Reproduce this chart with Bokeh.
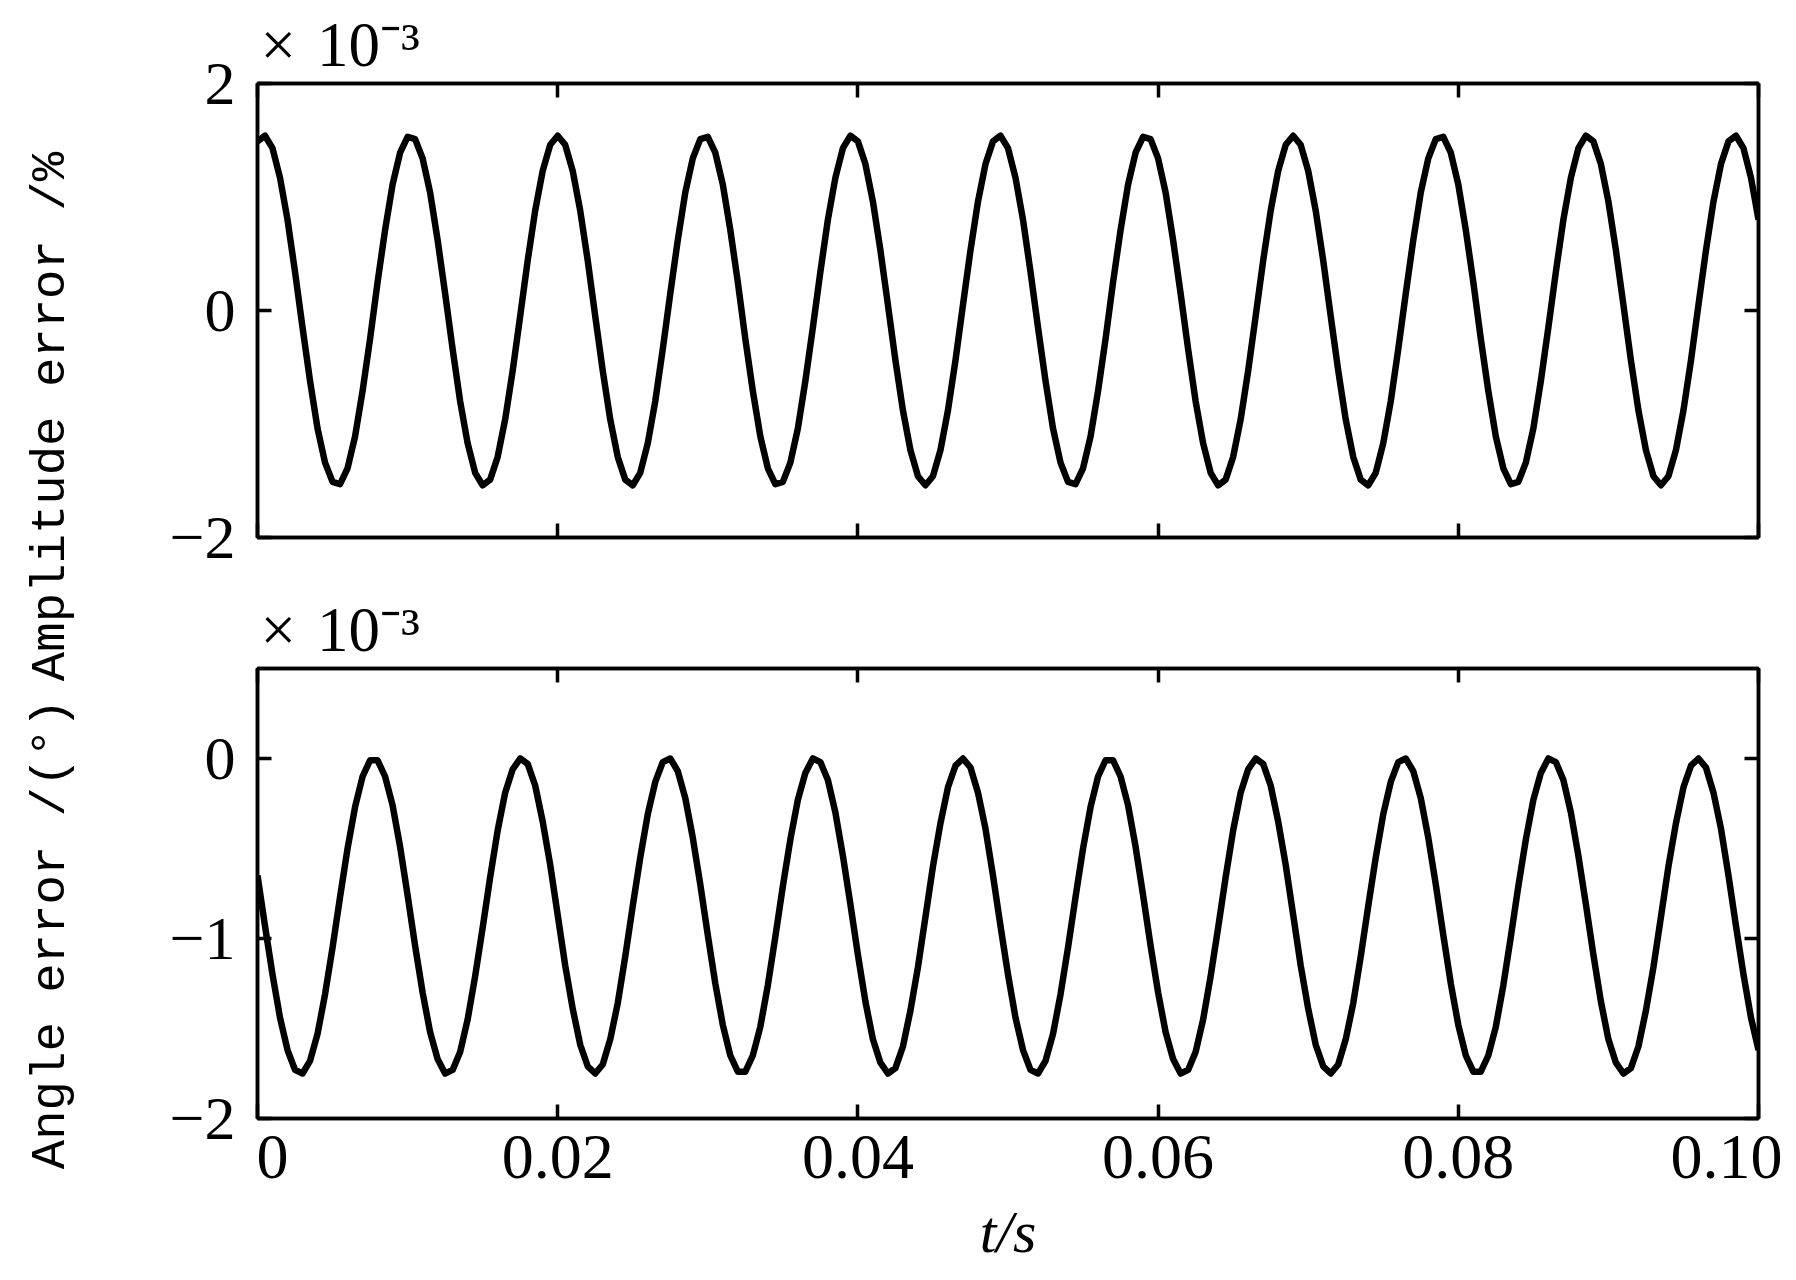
import numpy as np
from bokeh.plotting import figure
from bokeh.models import (Range1d, LinearAxis, FixedTicker, Label, Title,
                          ColumnDataSource, CustomLabelingPolicy, AllLabels)
from bokeh.layouts import row, column
from bokeh.embed import file_html
from bokeh.resources import INLINE

# ---------------- data ----------------
# sampling times in milliseconds
T_MS = [
    0.0, 0.5, 1.0, 1.5, 2.0, 2.5, 3.0, 3.5, 4.0, 4.5,
    5.0, 5.5, 6.0, 6.5, 7.0, 7.5, 8.0, 8.5, 9.0, 9.5,
    10.0, 10.5, 11.0, 11.5, 12.0, 12.5, 13.0, 13.5, 14.0, 14.5,
    15.0, 15.5, 16.0, 16.5, 17.0, 17.5, 18.0, 18.5, 19.0, 19.5,
    20.0, 20.5, 21.0, 21.5, 22.0, 22.5, 23.0, 23.5, 24.0, 24.5,
    25.0, 25.5, 26.0, 26.5, 27.0, 27.5, 28.0, 28.5, 29.0, 29.5,
    30.0, 30.5, 31.0, 31.5, 32.0, 32.5, 33.0, 33.5, 34.0, 34.5,
    35.0, 35.5, 36.0, 36.5, 37.0, 37.5, 38.0, 38.5, 39.0, 39.5,
    40.0, 40.5, 41.0, 41.5, 42.0, 42.5, 43.0, 43.5, 44.0, 44.5,
    45.0, 45.5, 46.0, 46.5, 47.0, 47.5, 48.0, 48.5, 49.0, 49.5,
    50.0, 50.5, 51.0, 51.5, 52.0, 52.5, 53.0, 53.5, 54.0, 54.5,
    55.0, 55.5, 56.0, 56.5, 57.0, 57.5, 58.0, 58.5, 59.0, 59.5,
    60.0, 60.5, 61.0, 61.5, 62.0, 62.5, 63.0, 63.5, 64.0, 64.5,
    65.0, 65.5, 66.0, 66.5, 67.0, 67.5, 68.0, 68.5, 69.0, 69.5,
    70.0, 70.5, 71.0, 71.5, 72.0, 72.5, 73.0, 73.5, 74.0, 74.5,
    75.0, 75.5, 76.0, 76.5, 77.0, 77.5, 78.0, 78.5, 79.0, 79.5,
    80.0, 80.5, 81.0, 81.5, 82.0, 82.5, 83.0, 83.5, 84.0, 84.5,
    85.0, 85.5, 86.0, 86.5, 87.0, 87.5, 88.0, 88.5, 89.0, 89.5,
    90.0, 90.5, 91.0, 91.5, 92.0, 92.5, 93.0, 93.5, 94.0, 94.5,
    95.0, 95.5, 96.0, 96.5, 97.0, 97.5, 98.0, 98.5, 99.0, 99.5,
    100.0,
]

# amplitude error, units of 1e-3 %
AMP_ERR = [
    1.49, 1.54, 1.43, 1.17, 0.80, 0.34, -0.15, -0.62, -1.04, -1.34,
    -1.51, -1.53, -1.39, -1.11, -0.71, -0.25, 0.25, 0.71, 1.11, 1.39,
    1.53, 1.51, 1.34, 1.04, 0.62, 0.15, -0.34, -0.80, -1.17, -1.43,
    -1.54, -1.49, -1.29, -0.96, -0.53, -0.05, 0.44, 0.88, 1.23, 1.46,
    1.54, 1.46, 1.23, 0.88, 0.44, -0.05, -0.53, -0.96, -1.29,
    -1.49, -1.54, -1.43, -1.17, -0.80, -0.34, 0.15, 0.62, 1.04, 1.34,
    1.51, 1.53, 1.39, 1.11, 0.71, 0.25, -0.25, -0.71, -1.11, -1.39,
    -1.53, -1.51, -1.34, -1.04, -0.62, -0.15, 0.34, 0.80, 1.17, 1.43,
    1.54, 1.49, 1.29, 0.96, 0.53, 0.05, -0.44, -0.88, -1.23, -1.46,
    -1.54, -1.46, -1.23, -0.88, -0.44, 0.05, 0.53, 0.96, 1.29,
    1.49, 1.54, 1.43, 1.17, 0.80, 0.34, -0.15, -0.62, -1.04, -1.34,
    -1.51, -1.53, -1.39, -1.11, -0.71, -0.25, 0.25, 0.71, 1.11, 1.39,
    1.53, 1.51, 1.34, 1.04, 0.62, 0.15, -0.34, -0.80, -1.17, -1.43,
    -1.54, -1.49, -1.29, -0.96, -0.53, -0.05, 0.44, 0.88, 1.23, 1.46,
    1.54, 1.46, 1.23, 0.88, 0.44, -0.05, -0.53, -0.96, -1.29,
    -1.49, -1.54, -1.43, -1.17, -0.80, -0.34, 0.15, 0.62, 1.04, 1.34,
    1.51, 1.53, 1.39, 1.11, 0.71, 0.25, -0.25, -0.71, -1.11, -1.39,
    -1.53, -1.51, -1.34, -1.04, -0.62, -0.15, 0.34, 0.80, 1.17, 1.43,
    1.54, 1.49, 1.29, 0.96, 0.53, 0.05, -0.44, -0.88, -1.23, -1.46,
    -1.54, -1.46, -1.23, -0.88, -0.44, 0.05, 0.53, 0.96, 1.29,
    1.49, 1.54, 1.43, 1.17, 0.80,
]

# angle error, units of 1e-3 degree
ANG_ERR = [
    -0.65, -0.93, -1.20, -1.44, -1.62, -1.73, -1.75, -1.68, -1.53, -1.31,
    -1.05, -0.77, -0.50, -0.27, -0.10, -0.01, -0.01, -0.10, -0.26, -0.49,
    -0.76, -1.04, -1.30, -1.52, -1.67, -1.75, -1.73, -1.63, -1.45, -1.21,
    -0.94, -0.66, -0.40, -0.19, -0.06, 0.00, -0.03, -0.15, -0.35, -0.59,
    -0.87, -1.15, -1.39, -1.59, -1.71, -1.75, -1.70, -1.56, -1.36,
    -1.10, -0.82, -0.55, -0.31, -0.13, -0.02, 0.00, -0.07, -0.22, -0.44,
    -0.70, -0.98, -1.25, -1.48, -1.65, -1.74, -1.74, -1.65, -1.49, -1.26,
    -0.99, -0.71, -0.45, -0.23, -0.08, 0.00, -0.02, -0.12, -0.30, -0.54,
    -0.81, -1.09, -1.35, -1.56, -1.69, -1.75, -1.72, -1.60, -1.40, -1.16,
    -0.88, -0.60, -0.36, -0.16, -0.04, 0.00, -0.05, -0.19, -0.39,
    -0.65, -0.93, -1.20, -1.44, -1.62, -1.73, -1.75, -1.68, -1.53, -1.31,
    -1.05, -0.77, -0.50, -0.27, -0.10, -0.01, -0.01, -0.10, -0.26, -0.49,
    -0.76, -1.04, -1.30, -1.52, -1.67, -1.75, -1.73, -1.63, -1.45, -1.21,
    -0.94, -0.66, -0.40, -0.19, -0.06, 0.00, -0.03, -0.15, -0.35, -0.59,
    -0.87, -1.15, -1.39, -1.59, -1.71, -1.75, -1.70, -1.56, -1.36,
    -1.10, -0.82, -0.55, -0.31, -0.13, -0.02, 0.00, -0.07, -0.22, -0.44,
    -0.70, -0.98, -1.25, -1.48, -1.65, -1.74, -1.74, -1.65, -1.49, -1.26,
    -0.99, -0.71, -0.45, -0.23, -0.08, 0.00, -0.02, -0.12, -0.30, -0.54,
    -0.81, -1.09, -1.35, -1.56, -1.69, -1.75, -1.72, -1.60, -1.40, -1.16,
    -0.88, -0.60, -0.36, -0.16, -0.04, 0.00, -0.05, -0.19, -0.39,
    -0.65, -0.93, -1.20, -1.44, -1.62,
]

X_TICKS = [0, 0.02, 0.04, 0.06, 0.08, 0.10]
X_TICK_LABELS = ["0", "0.02", "0.04", "0.06", "0.08", "0.10"]
AMP_TICKS = [-2, 0, 2]
AMP_TICK_LABELS = ["\u22122", "0", "2"]
ANG_TICKS = [-2, -1, 0]
ANG_TICK_LABELS = ["\u22122", "\u22121", "0"]
AMP_LABEL = "Amplitude error /%"
ANG_LABEL = "Angle error /(\u00b0)"
X_LABEL = "t/s"
SCALE_TEXT = "\u00d7\u200410\u207b\u00b3"

# ---------------- styling / layout ----------------
SERIF = "Liberation Serif"
Y_FS = "62px"
X_FS = "64px"
LINE_W = 3.5
TICK_LEN = 14
FRAME_W = 1501                      # plot frame width in px
PX_PER_X = FRAME_W / (X_TICKS[-1] - X_TICKS[0])
EDGE_NUDGE_PX = (15, -32)           # first / last time label pulled inward

NO_LABELS = CustomLabelingPolicy(code="""
for (const i of indices)
  indices.unset(i)
""")

n = min(len(T_MS), len(AMP_ERR), len(ANG_ERR))
src = ColumnDataSource(dict(t=np.array(T_MS[:n]) / 1000.0,
                            amp=np.array(AMP_ERR[:n]),
                            ang=np.array(ANG_ERR[:n])))


def tick_only(ax, ticks):
    ax.ticker = FixedTicker(ticks=ticks)
    ax.major_tick_in = TICK_LEN
    ax.major_tick_out = 0
    ax.minor_tick_in = 0
    ax.minor_tick_out = 0
    ax.axis_line_width = LINE_W
    ax.axis_line_color = "black"
    ax.major_tick_line_width = LINE_W
    ax.major_tick_line_color = "black"
    ax.major_label_text_font_size = "0px"
    ax.major_label_standoff = 0
    ax.major_label_policy = NO_LABELS


def make_panel(height, y_rng, yticks, ylabels, col, top_border, bottom_border):
    p = figure(width=1680, height=height, x_range=Range1d(0, 0.1), y_range=y_rng,
               output_backend="svg", toolbar_location=None, title_location=None,
               min_border_left=149, min_border_right=30,
               min_border_top=top_border, min_border_bottom=bottom_border,
               background_fill_color="white", border_fill_color="white")
    p.grid.visible = False
    p.outline_line_color = "black"
    p.outline_line_width = LINE_W
    p.add_layout(LinearAxis(), "above")
    p.add_layout(LinearAxis(), "right")
    for ax in p.xaxis:
        tick_only(ax, X_TICKS)
    for ax in p.yaxis:
        tick_only(ax, yticks)
    # left axis carries the value labels
    left = p.left[0]
    left.major_label_policy = AllLabels()
    left.major_label_overrides = {k: v for k, v in zip(yticks, ylabels)}
    left.major_label_text_font = SERIF
    left.major_label_text_font_size = Y_FS
    left.major_label_text_color = "black"
    left.major_label_standoff = 22
    # scale note above the frame
    p.add_layout(Title(text=SCALE_TEXT, align="left", offset=3, standoff=7,
                       text_font=SERIF, text_font_size="63px", text_font_style="normal",
                       text_color="black"), "above")
    p.line("t", col, source=src, line_color="black", line_width=6.5, line_join="round")
    return p


top = make_panel(577, Range1d(-2, 2), AMP_TICKS, AMP_TICK_LABELS, "amp", 83, 40)
bot = make_panel(701, Range1d(-2, 0.5), ANG_TICKS, ANG_TICK_LABELS, "ang", 91, 160)

# time labels: a label-only axis under the tick axis
label_pos = list(X_TICKS)
label_pos[0] = X_TICKS[0] + EDGE_NUDGE_PX[0] / PX_PER_X
label_pos[-1] = X_TICKS[-1] + EDGE_NUDGE_PX[1] / PX_PER_X
tax = LinearAxis(ticker=FixedTicker(ticks=label_pos))
tax.major_label_overrides = {k: v for k, v in zip(label_pos, X_TICK_LABELS)}
tax.axis_line_color = None
tax.major_tick_line_color = None
tax.minor_tick_line_color = None
tax.major_tick_in = 0
tax.major_tick_out = 0
tax.major_label_standoff = 17
tax.major_label_text_font = SERIF
tax.major_label_text_font_size = X_FS
tax.major_label_text_color = "black"
tax.axis_label = X_LABEL
tax.axis_label_text_font = SERIF
tax.axis_label_text_font_size = "60px"
tax.axis_label_text_font_style = "italic"
tax.axis_label_text_color = "black"
tax.axis_label_standoff = 18
bot.add_layout(tax, "below")

lab = figure(width=108, height=1278, x_axis_type=None, y_axis_type=None,
             output_backend="svg", toolbar_location=None, min_border=0,
             title_location=None,
             background_fill_color="white", border_fill_color="white")
lab.outline_line_color = None
lab.grid.visible = False
for txt, yv in [(AMP_LABEL, 862.0), (ANG_LABEL, 344.5)]:
    lab.add_layout(Label(x=50, y=yv, x_units="screen", y_units="screen", text=txt,
                         angle=np.pi / 2, text_font="Liberation Mono", text_font_size="49px",
                         text_align="center", text_baseline="middle", text_color="black"))

layout = row(lab, column(top, bot))
open("out.html", "w").write(file_html(layout, INLINE))
